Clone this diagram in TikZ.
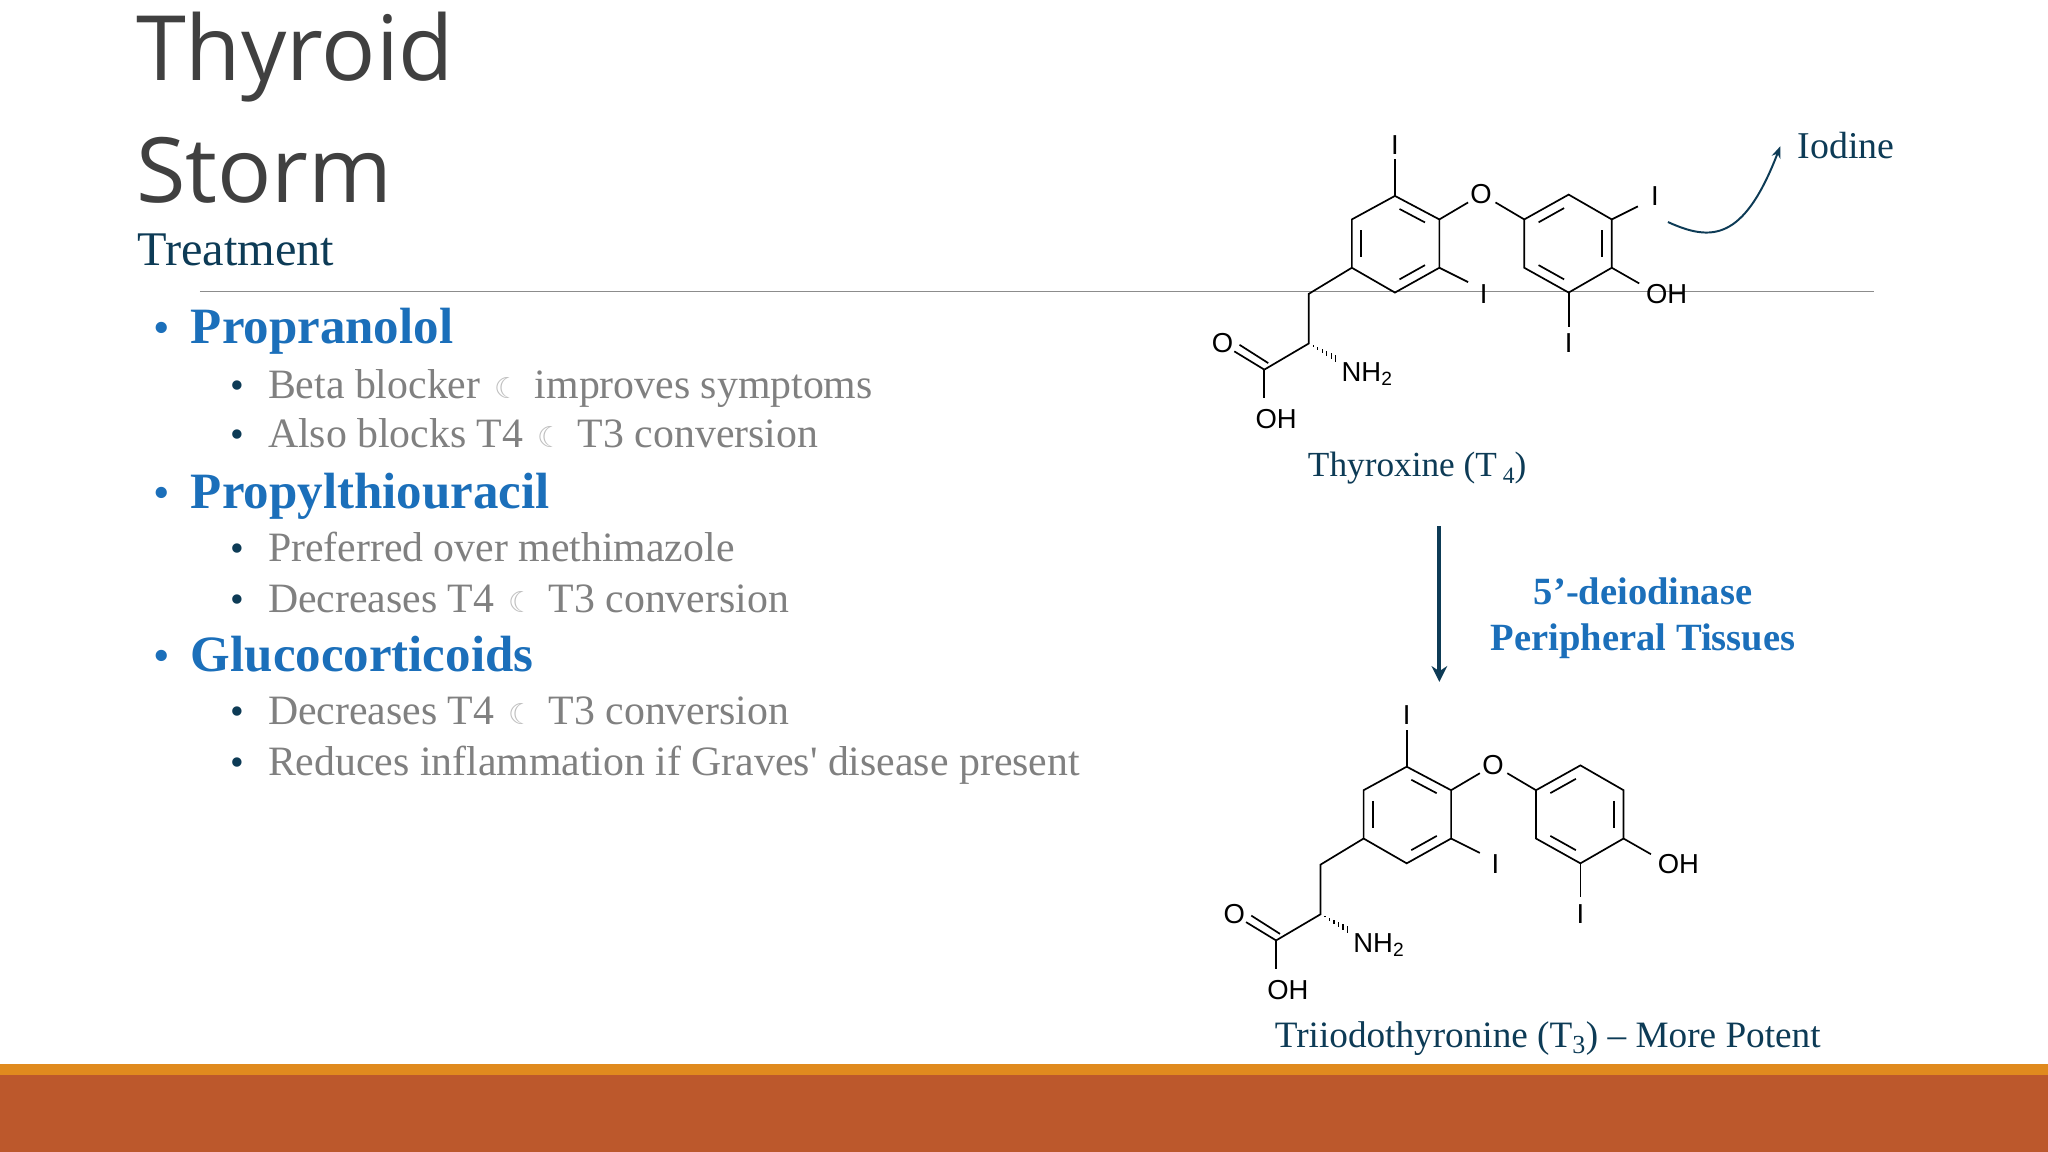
\documentclass[tikz,border=0pt]{standalone}
\usepackage{fontspec}
\setmainfont{Liberation Serif}
\newfontfamily\titlefont{Open Sans}
\newfontfamily\chem{Liberation Sans}
\newfontfamily\symf{DejaVu Sans}
\usetikzlibrary{calc,arrows.meta}
\definecolor{teal}{HTML}{0D3B56}
\definecolor{hblue}{HTML}{1B6FBA}
\definecolor{tgray}{HTML}{808080}
\definecolor{dgray}{HTML}{404040}
\definecolor{orng}{HTML}{E08A1E}
\definecolor{rust}{HTML}{BC582C}
\newcommand{\fs}[1]{\fontsize{#1}{#1}\selectfont}
\newcommand{\mymoon}{\hspace{3pt}{\symf\color{black!25}\fs{22}☾}\hspace{3pt}}
\tikzset{
  bond/.style={line width=1.3pt,black},
  atom/.style={font=\chem\fs{21},inner sep=0pt,anchor=base},
  head/.style={font=\bfseries\fs{39},text=hblue,anchor=base west,inner sep=0pt},
  sub/.style={font=\fs{32},text=tgray,anchor=base west,inner sep=0pt},
  bul/.style={font=\fs{36},anchor=base,inner sep=0pt},
  captxt/.style={font=\fs{27},text=teal,anchor=base,inner sep=0pt},
}
\newcommand{\inner}[3]{\draw[bond,shorten <=4pt,shorten >=4pt] ($(#1)!0.78!(#2)$) -- ($(#1)!0.78!(#3)$);}
\newcommand{\molcore}{%
  \coordinate (at) at (1068,150); \coordinate (aur) at (1102,168); \coordinate (alr) at (1102,205);
  \coordinate (ab) at (1068,224); \coordinate (all) at (1035,205); \coordinate (aul) at (1035,168);
  \coordinate (ac) at (1068,187);
  \draw[bond] (at)--(aur)--(alr)--(ab)--(all)--(aul)--cycle;
  \inner{ac}{at}{aur}\inner{ac}{aul}{all}\inner{ac}{alr}{ab}
  \coordinate (bul) at (1167,168); \coordinate (bt) at (1201,149); \coordinate (bur) at (1234,168);
  \coordinate (blr) at (1234,205); \coordinate (bb) at (1201,224); \coordinate (bll) at (1167,205);
  \coordinate (bc) at (1201,187);
  \draw[bond] (bul)--(bt)--(bur)--(blr)--(bb)--(bll)--cycle;
  \inner{bc}{bul}{bt}\inner{bc}{bur}{blr}\inner{bc}{bll}{bb}
  \node[atom] (iA) at (1068,118) {I};
  \draw[bond] (at) -- (1068,122);
  \node[atom] (oE) at (1134,156) {O};
  \draw[bond] (aur) -- (1124,155); \draw[bond] (1145,155) -- (bul);
  \node[atom] (iB) at (1136,232) {I};
  \draw[bond] (alr) -- (1124,216);
  \node[atom] (ohB) at (1276,232) {OH};
  \draw[bond] (blr) -- (1255,217);
  \node[atom] (iC) at (1201,270) {I};
  \draw[bond] (bb) -- (1201,250);
  \coordinate (ca) at (1002,225); \coordinate (cb) at (1002,263); \coordinate (cc) at (968,283);
  \draw[bond] (all) -- (ca) -- (cb) -- (cc);
  \node[atom] (oC) at (936,270) {O};
  \draw[bond] (cc) -- (945,269); \draw[bond] ($(cc)+(3,-5)$) -- (949,264);
  \draw[bond] (cc) -- (968,305);
  \node[atom] (ohC) at (977,328) {OH};
  \foreach \t in {0.15,0.3,...,0.95} \draw[line width=1pt] ($(cb)!\t!(1025,276)+(0,-3*\t)$) -- ($(cb)!\t!(1025,276)+(0,3*\t)$);
  \node[atom,anchor=base west] (nh) at (1027,292) {NH\textsubscript{2}};
}
\begin{document}
\begin{tikzpicture}[x=1pt,y=-1pt]
\useasboundingbox (0,0) rectangle (1568,882);
\fill[white] (0,0) rectangle (1568,882);
\node[font=\titlefont\fs{69},text=dgray,anchor=base west,inner sep=0pt] (t1) at (104,62) {Thyroid};
\node[font=\titlefont\fs{69},text=dgray,anchor=base west,inner sep=0pt] (t2) at (104,155) {Storm};
\node[font=\fs{37},text=teal,anchor=base west,inner sep=0pt] (t3) at (105,203) {Treatment};
\draw[black!45,line width=1pt] (153,223) -- (1435,223);
% bullets
\foreach \y/\txt [count=\i] in {263/Propranolol,389/Propylthiouracil,514/Glucocorticoids}{
  \node[bul,text=hblue] (hb\i) at (124,\y) {•};
  \node[head] (h\i) at (146,\y) {\txt};
}
\foreach \y/\txt [count=\i] in {305/{Beta blocker \mymoon\ improves symptoms},343/{Also blocks T4 \mymoon\ T3 conversion},430/{Preferred over methimazole},469/{Decreases T4 \mymoon\ T3 conversion},555/{Decreases T4 \mymoon\ T3 conversion},594/{Reduces inflammation if Graves\textquotesingle\ disease present}}{
  \node[bul,text=teal,font=\fs{30}] (sb\i) at (182,\y) {•};
  \node[sub] (s\i) at (205,\y) {\txt};
}
% T4
\begin{scope}
\molcore
\node[atom] (iD) at (1267,157) {I};
\draw[bond] (bur) -- (1254,158);
\end{scope}
\node[captxt] (c4) at (1085,365) {Thyroxine (T\,\raisebox{-5pt}{\fs{18}4})};
\node[font=\fs{29},text=teal,anchor=base west,inner sep=0pt] (iod) at (1376,121) {Iodine};
\coordinate (iodstart) at (1277,170);
\draw[teal,line width=1.5pt,-{Stealth[length=9pt,width=7pt]}] (iodstart) .. controls (1310,185) and (1335,185) .. (1363,112);
% arrow down
\draw[teal,line width=3pt,-{Stealth[length=12pt,width=12pt]}] (1102,403) -- (1102,522);
\node[font=\bfseries\fs{29.5},text=hblue,inner sep=0pt,anchor=base] (e1) at (1258,463) {5’-deiodinase};
\node[font=\bfseries\fs{29.5},text=hblue,inner sep=0pt,anchor=base] (e2) at (1258,498) {Peripheral Tissues};
% T3
\begin{scope}[shift={(9,437)}]
\molcore
\end{scope}
\node[captxt,font=\fs{28.5}] (c3) at (1185,802) {Triiodothyronine (T\textsubscript{3}) – More Potent};
% bottom bars
\fill[orng] (0,815) rectangle (1568,823);
\fill[rust] (0,823) rectangle (1568,882);
\end{tikzpicture}
\end{document}
